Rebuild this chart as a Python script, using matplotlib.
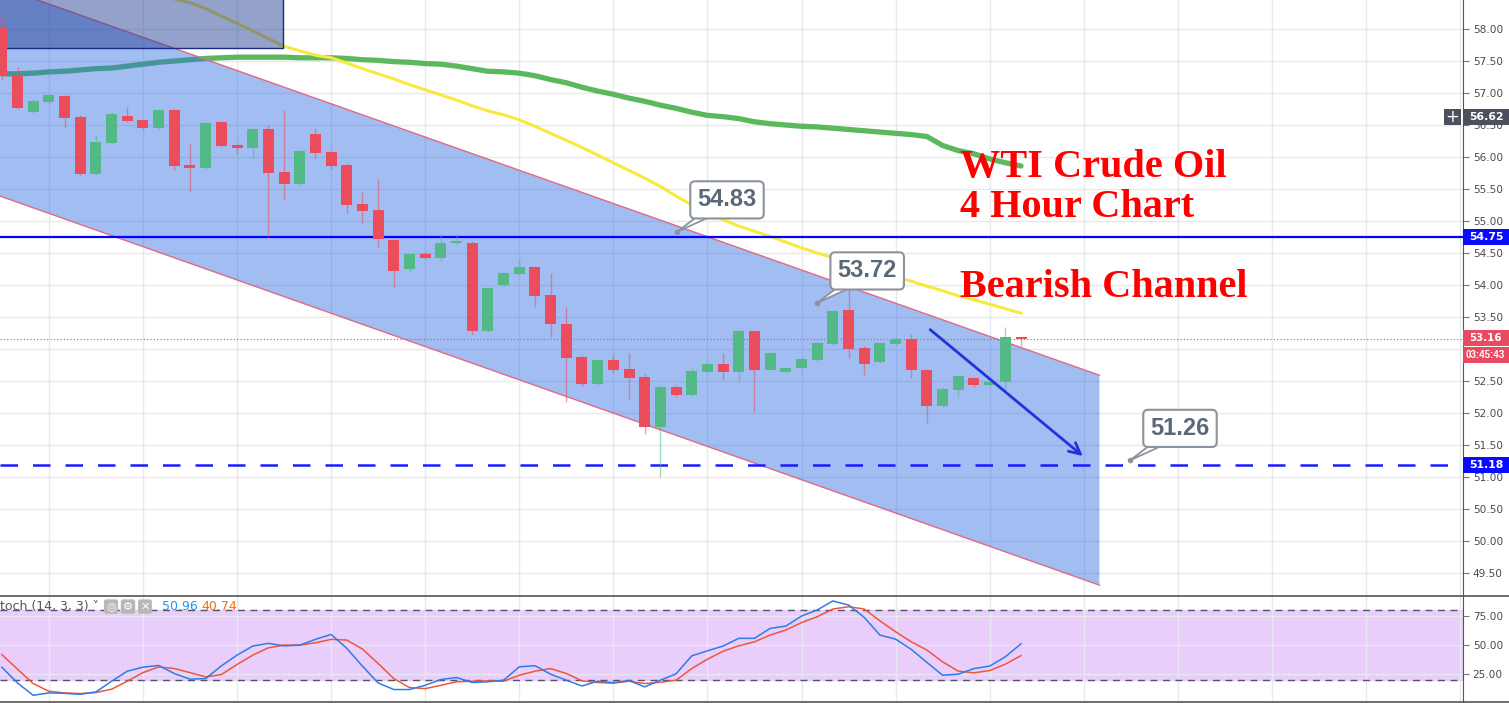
import numpy as np
import matplotlib
matplotlib.use("Agg")
import matplotlib.pyplot as plt
from matplotlib.patches import Polygon, Rectangle
from matplotlib.lines import Line2D
import matplotlib.transforms as mtransforms

# ---- candles (4h WTI) ----
opens = [58.03, 57.27, 56.70, 56.86, 56.95, 56.63, 55.73, 56.22, 56.64, 56.58,
         56.45, 56.73, 55.88, 55.83, 56.55, 56.19, 56.14, 56.44, 55.77, 55.58,
         56.36, 56.08, 55.88, 55.27, 55.17, 54.70, 54.25, 54.48, 54.42, 54.66,
         54.66, 53.28, 54.00, 54.17, 54.28, 53.84, 53.39, 52.88, 52.45, 52.83,
         52.69, 52.56, 51.78, 52.41, 52.28, 52.64, 52.77, 52.64, 53.28, 52.67,
         52.64, 52.70, 52.83, 53.08, 53.61, 53.02, 52.80, 53.08, 53.16, 52.67,
         52.11, 52.36, 52.55, 52.44, 52.48, 53.19]
closes = [57.27, 56.77, 56.88, 56.97, 56.61, 55.73, 56.23, 56.67, 56.56, 56.45,
          56.73, 55.86, 55.83, 56.53, 56.17, 56.14, 56.44, 55.75, 55.58, 56.09,
          56.06, 55.86, 55.25, 55.16, 54.72, 54.22, 54.48, 54.42, 54.66, 54.66,
          53.28, 53.95, 54.19, 54.28, 53.83, 53.39, 52.86, 52.45, 52.83, 52.67,
          52.55, 51.78, 52.41, 52.28, 52.66, 52.77, 52.64, 53.28, 52.67, 52.94,
          52.70, 52.84, 53.09, 53.59, 53.00, 52.77, 53.09, 53.16, 52.67, 52.11,
          52.38, 52.58, 52.44, 52.48, 53.19, 53.16]
highs = [58.20, 57.40, 56.90, 57.00, 56.97, 56.66, 56.35, 56.70, 56.78, 56.60,
         56.75, 56.75, 56.20, 56.55, 56.57, 56.22, 56.46, 56.50, 56.73, 56.11,
         56.45, 56.10, 55.90, 55.45, 55.65, 54.72, 54.50, 54.52, 54.80, 54.80,
         54.68, 53.97, 54.21, 54.38, 54.30, 54.18, 53.65, 52.90, 52.85, 52.90,
         52.93, 52.62, 52.43, 52.43, 52.72, 52.79, 52.93, 53.30, 53.30, 52.96,
         52.72, 52.86, 53.11, 53.61, 54.03, 53.04, 53.11, 53.18, 53.24, 52.69,
         52.40, 52.60, 52.57, 52.50, 53.34, 53.19]
lows = [57.20, 56.75, 56.68, 56.84, 56.47, 55.71, 55.72, 56.20, 56.54, 56.43,
        56.43, 55.80, 55.45, 55.81, 56.15, 56.05, 55.98, 54.75, 55.33, 55.55,
        55.98, 55.82, 55.12, 54.97, 54.60, 53.97, 54.22, 54.40, 54.38, 54.62,
        53.22, 53.26, 53.98, 54.15, 53.66, 53.19, 52.17, 52.42, 52.42, 52.62,
        52.20, 51.67, 51.00, 52.25, 52.26, 52.62, 52.52, 52.50, 52.02, 52.65,
        52.62, 52.68, 52.81, 53.06, 52.86, 52.59, 52.78, 53.06, 52.55, 51.84,
        52.09, 52.25, 52.40, 52.42, 52.33, 53.05]

# ---- moving averages ----
ma_yellow_start = 10
ma_yellow = [58.58, 58.47, 58.41, 58.32, 58.20, 58.09, 57.97, 57.85, 57.73, 57.66,
             57.59, 57.55, 57.47, 57.38, 57.30, 57.22, 57.13, 57.05, 56.97, 56.89,
             56.80, 56.72, 56.66, 56.58, 56.48, 56.37, 56.26, 56.15, 56.03, 55.91,
             55.79, 55.67, 55.54, 55.39, 55.25, 55.14, 55.02, 54.92, 54.84, 54.76,
             54.67, 54.58, 54.50, 54.43, 54.35, 54.28, 54.21, 54.13, 54.06, 53.98,
             53.91, 53.83, 53.77, 53.70, 53.63, 53.56]
ma_green = [57.30, 57.30, 57.31, 57.33, 57.34, 57.36, 57.38, 57.39, 57.42, 57.45,
            57.48, 57.50, 57.52, 57.54, 57.55, 57.56, 57.56, 57.56, 57.56, 57.55,
            57.55, 57.55, 57.54, 57.52, 57.51, 57.49, 57.48, 57.46, 57.45, 57.42,
            57.38, 57.34, 57.33, 57.31, 57.27, 57.21, 57.16, 57.09, 57.03, 56.98,
            56.92, 56.87, 56.81, 56.76, 56.70, 56.65, 56.63, 56.60, 56.55, 56.52,
            56.50, 56.48, 56.47, 56.45, 56.43, 56.41, 56.39, 56.37, 56.35, 56.32,
            56.18, 56.10, 56.05, 55.97, 55.91, 55.86]

# ---- stochastic (14, 3, 3) ----
stoch_k = [30.7, 17.0, 6.3, 8.4, 8.0, 7.2, 9.2, 18.5, 27.2, 30.7,
           32.2, 25.2, 20.3, 20.8, 31.8, 41.1, 49.0, 51.3, 49.2, 49.8,
           54.8, 59.1, 47.0, 31.6, 17.0, 11.3, 11.3, 15.0, 20.0, 21.7,
           17.4, 18.0, 19.4, 31.0, 32.0, 24.6, 19.4, 14.4, 18.5, 17.4,
           19.1, 13.6, 19.4, 24.9, 40.5, 44.9, 49.0, 55.7, 55.7, 64.3,
           66.3, 75.0, 80.3, 88.1, 84.6, 73.9, 58.5, 55.0, 46.1, 34.8,
           23.7, 24.6, 29.5, 31.6, 39.7, 50.96]
stoch_d = [41.6, 29.0, 16.5, 9.8, 8.4, 7.8, 8.7, 11.6, 18.5, 26.0,
           30.9, 29.5, 26.0, 22.3, 24.3, 33.0, 41.1, 47.5, 49.8, 49.8,
           51.8, 54.8, 54.2, 46.4, 33.9, 20.8, 13.0, 12.1, 15.0, 18.0,
           18.5, 18.8, 18.5, 23.7, 27.2, 29.5, 25.2, 18.8, 17.4, 16.8,
           18.5, 16.5, 17.6, 19.4, 29.5, 37.6, 44.5, 49.2, 52.7, 58.5,
           62.9, 69.3, 74.4, 81.1, 83.1, 81.1, 70.9, 61.4, 52.7, 45.5,
           35.3, 27.2, 25.8, 27.8, 33.3, 40.74]

# ---- drawings ----
channel_x = [-0.12, 70.0]
channel_upper = [58.66, 52.59]
channel_lower = [55.39, 49.31]
resistance = 54.75
support = 51.18
last_price = 53.16
crosshair_price = 56.62
callouts = [(43.06, 54.83, "54.83"), (52.0, 53.72, "53.72"), (71.95, 51.26, "51.26")]
arrow_from = (59.07, 53.33)
arrow_to = (69.08, 51.30)
price_ticks = np.arange(49.5, 58.01, 0.5)
hidden_tick = 53.0   # covered by the countdown tag in the original

W, H = 1509, 703
AX_W = 1463
RED = "#eb4d5c"
GREEN = "#53b987"
PX_X = 15.68   # pixels per candle
PX_P = 64.0    # pixels per 1.00 of price

fig = plt.figure(figsize=(W / 100, H / 100), dpi=100)
ax = fig.add_axes([0, (H - 596) / H, AX_W / W, 596 / H])
axs = fig.add_axes([0, 1 / H, AX_W / W, 106 / H])

x_lo = (0 - 1.82) / PX_X
x_hi = (AX_W - 1.82) / PX_X

n = len(opens)
idx = np.arange(n)

# grid / axes look
for a in (ax, axs):
    a.set_xlim(x_lo, x_hi)
    a.set_xticks(np.arange(3, 94, 6))
    a.tick_params(axis="x", bottom=False, labelbottom=False)
    a.grid(True, color="#e6e9ef", lw=1, zorder=0)
    a.set_axisbelow(True)
    for s in ("top", "left", "bottom"):
        a.spines[s].set_visible(False)
    a.spines["right"].set_color("#555555")
    a.yaxis.tick_right()
    a.tick_params(axis="y", length=4, color="#777777", labelsize=7.6,
                  labelcolor="#4a4a4a", pad=3)

ax.set_ylim(58 - 567 / PX_P, 58 + 29 / PX_P)
ax.set_yticks(price_ticks)
ax.set_yticklabels(["" if abs(v - hidden_tick) < 1e-6 else "%.2f" % v
                    for v in price_ticks])

# moving averages
ax.plot(idx, ma_green, color="#5cb85c", lw=3.8, zorder=2, solid_capstyle="round")
ax.plot(np.arange(ma_yellow_start, ma_yellow_start + len(ma_yellow)), ma_yellow,
        color="#f7e93e", lw=2.2, zorder=2)

# channel
chan = Polygon([(channel_x[0], channel_upper[0]), (channel_x[1], channel_upper[1]),
                (channel_x[1], channel_lower[1]), (channel_x[0], channel_lower[0])],
               closed=True, fc="#2f6ee0", alpha=0.45, ec="none", zorder=3)
ax.add_patch(chan)
ax.plot(channel_x, channel_upper, color="#e06a86", lw=1, zorder=3.2)
ax.plot(channel_x, channel_lower, color="#e06a86", lw=1, zorder=3.2)

# top-left rectangle
rect_r = (283 - 1.82) / PX_X
rect_b = 58 - 19 / PX_P
ax.add_patch(Rectangle((x_lo, rect_b), rect_r - x_lo, 1.0,
                       fc="#2a4496", alpha=0.5, ec="none", zorder=3.5))
ax.plot([x_lo, rect_r, rect_r], [rect_b, rect_b, 59], color="#1a2a80", lw=1, zorder=3.6)

# horizontal levels
ax.axhline(resistance, color="#0000ff", lw=1.6, zorder=4)
ax.axhline(support, color="#1a1aff", lw=1.8, ls=(0, (7, 6)), zorder=4)
ax.axhline(last_price, color="#e84a5f", lw=0.8, ls=(0, (1, 2)), zorder=4)

# candles
for i in range(n):
    o, c = opens[i], closes[i]
    col = GREEN if c >= o else RED
    ax.vlines(i, lows[i], highs[i], color=col, lw=1, alpha=0.55, zorder=5)
    body = max(abs(c - o), 0.02)
    ax.bar(i, body, bottom=min(o, c), width=0.7, color=col, zorder=6)

# arrow
ax.annotate("", xy=arrow_to, xytext=arrow_from,
            arrowprops=dict(arrowstyle="->,head_length=0.8,head_width=0.4",
                            color="#2233dd", lw=2), zorder=7)

# callouts
for cx, cy, label in callouts:
    bx = cx + 50 / PX_X
    by = cy + 32 / PX_P
    ax.add_patch(Polygon([(cx, cy), (cx + 1.45, cy + 0.27), (cx + 2.4, cy + 0.27)],
                         closed=True, fc="white", ec="#8c939d", lw=1.3, zorder=8))
    ax.plot(cx, cy, "o", ms=3, color="#8c939d", zorder=9)
    ax.text(bx, by, label, ha="center", va="center", fontsize=17, fontweight="bold",
            family="Liberation Sans", color="#5b6878", zorder=10,
            bbox=dict(boxstyle="round,pad=0.3,rounding_size=0.2", fc="white",
                      ec="#8c939d", lw=1.5))

# headline texts
title_kw = dict(family="Liberation Serif", fontweight="bold", color="#ff0000",
                fontsize=29, va="baseline", ha="left")
fig.text(960 / W, 1 - 177 / H, "WTI Crude Oil", **title_kw)
fig.text(960 / W, 1 - 217 / H, "4 Hour Chart", **title_kw)
fig.text(960 / W, 1 - 297 / H, "Bearish Channel", **title_kw)

# price tags on the axis
tr = mtransforms.blended_transform_factory(ax.transAxes, ax.transData)
half = 8 / PX_P

def tag(y, s, fc, size=7.8, tx=None, family="DejaVu Sans"):
    ax.add_patch(Rectangle((1.0, y - half), W / AX_W - 1.0, 2 * half, transform=tr,
                           fc=fc, ec="none", zorder=19, clip_on=False))
    ax.text(tx if tx is not None else 1.0 + 6 / AX_W, y, s, transform=tr,
            ha="left", va="center", fontsize=size, fontweight="bold",
            family=family, color="white", zorder=20, clip_on=False)

tag(crosshair_price, "56.62", "#4b505c")
tag(resistance, "54.75", "#0a0aff")
tag(last_price + 1 / PX_P, "53.16", "#e84a5f", size=7.4)
tag(last_price - 16 / PX_P, "03:45:43", "#e84a5f", size=7.0,
    tx=1.0 + 3 / AX_W, family="Liberation Sans")
tag(support, "51.18", "#0a0aff")
ax.add_patch(Rectangle(((AX_W - 19) / AX_W, crosshair_price - half), 17 / AX_W,
                       2 * half, transform=tr, fc="#4b505c", ec="none",
                       zorder=19, clip_on=False))
ax.text((AX_W - 10.5) / AX_W, crosshair_price, "+", transform=tr, ha="center",
        va="center", fontsize=12, color="white", zorder=20, clip_on=False)

# stochastic panel
axs.set_ylim(0.5, 92.4)
axs.set_yticks([25, 50, 75])
axs.set_yticklabels(["25.00", "50.00", "75.00"])
axs.axhspan(20, 80, color="#e9cdfb", zorder=0.5)
axs.axhline(80, color="#555566", lw=1, ls=(0, (5, 4)), zorder=1)
axs.axhline(20, color="#555566", lw=1, ls=(0, (5, 4)), zorder=1)
axs.plot(np.arange(len(stoch_k)), stoch_k, color="#2f7be8", lw=1.1, zorder=3)
axs.plot(np.arange(len(stoch_d)), stoch_d, color="#f0573a", lw=1.1, zorder=2)

axs.text(0, 0.90, "toch (14, 3, 3) \u02c5", transform=axs.transAxes, ha="left",
         va="center", fontsize=9, color="#555555", zorder=10)
for k, sym in enumerate(["\u25ce", "\u2699", "\u2715"]):
    axs.text((111 + k * 17) / AX_W, 0.90, sym, transform=axs.transAxes, ha="center",
             va="center", fontsize=8, color="white", zorder=10,
             bbox=dict(boxstyle="round,pad=0.2", fc="#b8b8b8", ec="none"))
axs.text(162 / AX_W, 0.90, "50.96", transform=axs.transAxes, ha="left", va="center",
         fontsize=9, color="#2196f3", zorder=10)
axs.text(201 / AX_W, 0.90, "40.74", transform=axs.transAxes, ha="left", va="center",
         fontsize=9, color="#ff6d00", zorder=10)

# panel separators
fig.add_artist(Line2D([0, 1], [(H - 596) / H] * 2, color="#555555", lw=1.2))
fig.add_artist(Line2D([0, 1], [1.5 / H] * 2, color="#555555", lw=1.2))

fig.savefig("out.png", dpi=100)
